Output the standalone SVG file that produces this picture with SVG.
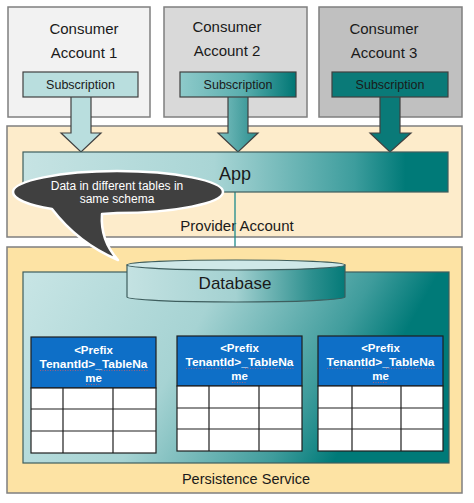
<svg xmlns="http://www.w3.org/2000/svg" width="474" height="503" viewBox="0 0 474 503">
<defs>
<linearGradient id="gApp" x1="0" y1="0" x2="1" y2="0">
<stop offset="0" stop-color="#c6e3e3"/><stop offset="0.45" stop-color="#a9d5d5"/><stop offset="0.78" stop-color="#3d9d9d"/><stop offset="0.9" stop-color="#007a78"/><stop offset="1" stop-color="#007a78"/>
</linearGradient>
<linearGradient id="gInner" x1="0" y1="0" x2="1" y2="0.25">
<stop offset="0" stop-color="#c8e5e5"/><stop offset="0.45" stop-color="#a6d3d3"/><stop offset="0.78" stop-color="#3f9c9c"/><stop offset="0.92" stop-color="#007a78"/><stop offset="1" stop-color="#007a78"/>
</linearGradient>
<linearGradient id="gDb" x1="0" y1="0" x2="1" y2="0">
<stop offset="0" stop-color="#c4e2e2"/><stop offset="0.5" stop-color="#a3d1d1"/><stop offset="0.85" stop-color="#2c8f8e"/><stop offset="1" stop-color="#047a78"/>
</linearGradient>
<linearGradient id="gSub2" x1="0" y1="0" x2="1" y2="0">
<stop offset="0" stop-color="#8ecaca"/><stop offset="0.55" stop-color="#5aaeae"/><stop offset="1" stop-color="#007674"/>
</linearGradient>
<linearGradient id="gArr2" x1="0" y1="0" x2="1" y2="0">
<stop offset="0" stop-color="#7cc0c0"/><stop offset="1" stop-color="#2b8e8e"/>
</linearGradient>
<style>
.box{stroke:#7f7f7f;stroke-width:1.5}
.t{font-family:"Liberation Sans",Arial,sans-serif;fill:#1a1a1a;text-anchor:middle}
.c{font-size:15px}
.s{font-size:12.5px}
.sub{stroke:#404040;stroke-width:1.2}
.arr{stroke:#404040;stroke-width:1.2;stroke-linejoin:miter}
.hdr{fill:#0e6fc7;stroke:#1f1f1f;stroke-width:1.2}
.tb{fill:#ffffff;stroke:#1f1f1f;stroke-width:1.2}
.gl{stroke:#1f1f1f;stroke-width:1.2;fill:none}
.ht{font-family:"Liberation Sans",Arial,sans-serif;font-weight:bold;font-size:11.5px;fill:#ffffff;text-anchor:middle}
.sq{stroke:#e85a5a;stroke-width:0.8;stroke-dasharray:1 1.5;fill:none;opacity:0.8}
</style>
</defs>

<g id="consumer1">
<rect class="box" x="8" y="7" width="142" height="110" fill="#f2f2f2"/>
<text class="t c" x="84" y="34">Consumer</text>
<text class="t c" x="84" y="58">Account 1</text>
</g>
<g id="consumer2">
<rect class="box" x="164" y="7" width="143" height="110" fill="#d9d9d9"/>
<text class="t c" x="227" y="32">Consumer</text>
<text class="t c" x="227" y="56">Account 2</text>
</g>
<g id="consumer3">
<rect class="box" x="319" y="7" width="143" height="110" fill="#c0c0c0"/>
<text class="t c" x="384" y="34">Consumer</text>
<text class="t c" x="384" y="58">Account 3</text>
</g>

<g id="provider">
<rect class="box" x="7" y="126" width="455" height="111" fill="#fdeccb"/>
<text class="t c" x="237" y="231">Provider Account</text>
</g>

<g id="connectors">
<path class="arr" d="M71,95 H91 V133 H101 L81,152 L61,133 H71 Z" fill="#b9dede"/>
<path class="arr" d="M228,95 H248 V133 H258 L238,152 L218,133 H228 Z" fill="url(#gArr2)"/>
<path class="arr" d="M380,95 H400 V133 H411 L390,152 L370,133 H380 Z" fill="#0a7a78"/>
<line x1="235" y1="192" x2="235" y2="262" stroke="#1d8a8a" stroke-width="1.3"/>
</g>

<g id="subscription1">
<rect class="sub" x="23" y="72" width="115" height="25" fill="#b9dede"/>
<text class="t s" x="80.5" y="89">Subscription</text>
</g>
<g id="subscription2">
<rect class="sub" x="180" y="72" width="116" height="25" fill="url(#gSub2)"/>
<text class="t s" x="238" y="89">Subscription</text>
</g>
<g id="subscription3">
<rect class="sub" x="332" y="72" width="116" height="25" fill="#0a7a78"/>
<text class="t s" x="390" y="89">Subscription</text>
</g>

<g id="app">
<rect x="23" y="152" width="425" height="40" fill="url(#gApp)" stroke="#3e5e5e" stroke-width="1.2"/>
<text class="t" x="235" y="180" font-size="18">App</text>
</g>

<g id="persistence">
<rect class="box" x="7" y="247" width="455" height="246" fill="#fde3a4"/>
<rect x="23" y="272" width="426" height="191" fill="url(#gInner)" stroke="#3e5e5e" stroke-width="1.2"/>
<text class="t" x="246" y="484" font-size="14.5">Persistence Service</text>
</g>

<g id="database">
<path d="M127,265 V297 A109,5 0 0 0 345,297 V265 Z" fill="url(#gDb)" stroke="#3e5e5e" stroke-width="1.2"/>
<ellipse cx="236" cy="265" rx="109" ry="5" fill="#cfe8e8" stroke="#3e5e5e" stroke-width="1.2"/>
<text class="t" x="235" y="289" font-size="17">Database</text>
</g>

<g id="table1">
<rect class="hdr" x="31" y="337" width="125" height="51"/>
<rect class="tb" x="31" y="388" width="125" height="65"/>
<path class="gl" d="M31,409 H156 M31,431 H156 M63,388 V453 M113,388 V453"/>
<text class="ht" x="93.5" y="354">&lt;Prefix</text>
<text class="ht" x="93.5" y="368" textLength="108" lengthAdjust="spacingAndGlyphs">TenantId&gt;_TableNa</text>
<text class="ht" x="93.5" y="382">me</text>
<path class="sq" d="M40,370.5 H84 M99,370.5 H148 M86,384.5 H101"/>
</g>

<g id="table2">
<rect class="hdr" x="177" y="336" width="125" height="50"/>
<rect class="tb" x="177" y="386" width="125" height="65"/>
<path class="gl" d="M177,408 H302 M177,429 H302 M209,386 V451 M259,386 V451"/>
<text class="ht" x="239.5" y="352">&lt;Prefix</text>
<text class="ht" x="239.5" y="366" textLength="108" lengthAdjust="spacingAndGlyphs">TenantId&gt;_TableNa</text>
<text class="ht" x="239.5" y="380">me</text>
<path class="sq" d="M186,368.5 H230 M245,368.5 H294 M232,382.5 H247"/>
</g>

<g id="table3">
<rect class="hdr" x="318" y="336" width="125" height="50"/>
<rect class="tb" x="318" y="386" width="125" height="65"/>
<path class="gl" d="M318,408 H443 M318,429 H443 M352,386 V451 M401,386 V451"/>
<text class="ht" x="380.5" y="352">&lt;Prefix</text>
<text class="ht" x="380.5" y="366" textLength="108" lengthAdjust="spacingAndGlyphs">TenantId&gt;_TableNa</text>
<text class="ht" x="380.5" y="380">me</text>
<path class="sq" d="M327,368.5 H371 M386,368.5 H435 M373,382.5 H388"/>
</g>

<g id="bubble">
<path d="M117,171 C175,171 223,181 223,192 C223,203 175,213 117,213 L102,214 Q100,240 118,260 Q78,243 52,209 C28,205 13,199 13,192 C13,181 60,171 117,171 Z" fill="#404040" stroke="#ffffff" stroke-width="2.5" stroke-linejoin="round"/>
<text x="117" y="190" font-family="'Liberation Sans',Arial,sans-serif" font-size="12" fill="#ffffff" text-anchor="middle">Data in different tables in</text>
<text x="117" y="203" font-family="'Liberation Sans',Arial,sans-serif" font-size="12" fill="#ffffff" text-anchor="middle">same schema</text>
</g>
</svg>
